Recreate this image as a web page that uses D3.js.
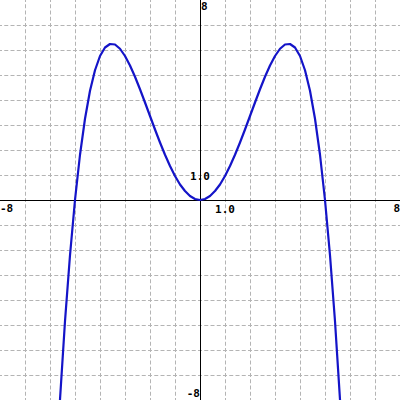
<!DOCTYPE html>
<html>
<head>
<meta charset="utf-8">
<script src="https://cdn.jsdelivr.net/npm/d3@7"></script>
<style>
  html, body { margin: 0; padding: 0; background: #fff; }
  svg { display: block; }
  .lbl { font-family: "DejaVu Sans Mono", monospace; font-weight: bold; font-size: 11px; fill: #000; }
</style>
</head>
<body>
<svg width="400" height="400"></svg>
<script>
// Curve points (x, y)
const xs = [-5.7, -5.6, -5.4, -5.2, -5.0, -4.8, -4.6, -4.4, -4.2, -4.0, -3.8, -3.6, -3.4, -3.2, -3.0,
  -2.8, -2.6, -2.4, -2.2, -2.0, -1.8, -1.6, -1.4, -1.2, -1.0, -0.8, -0.6, -0.4, -0.2, 0,
  0.2, 0.4, 0.6, 0.8, 1.0, 1.2, 1.4, 1.6, 1.8, 2.0, 2.2, 2.4, 2.6, 2.8, 3.0,
  3.2, 3.4, 3.6, 3.8, 4.0, 4.2, 4.4, 4.6, 4.8, 5.0, 5.2, 5.4, 5.6, 5.7]
const ys = [-9.73, -7.98, -4.85, -2.21, 0, 1.81, 3.25, 4.37, 5.19, 5.76, 6.10, 6.24, 6.22, 6.05, 5.76,
  5.38, 4.93, 4.43, 3.90, 3.36, 2.82, 2.30, 1.81, 1.36, 0.96, 0.62, 0.36, 0.16, 0.04, 0,
  0.04, 0.16, 0.36, 0.62, 0.96, 1.36, 1.81, 2.30, 2.82, 3.36, 3.90, 4.43, 4.93, 5.38, 5.76,
  6.05, 6.22, 6.24, 6.10, 5.76, 5.19, 4.37, 3.25, 1.81, 0, -2.21, -4.85, -7.98, -9.73]

const domainMin = -8
const domainMax = 8
const gridValues = d3.range(-7, 8)

const svg = d3.select('svg')
const width = +svg.attr('width')
const height = +svg.attr('height')

const x = d3.scaleLinear().domain([domainMin, domainMax]).range([0, width])
const y = d3.scaleLinear().domain([domainMin, domainMax]).range([height, 0])

// Dashed grid
const grid = svg.append('g')
  .attr('stroke', '#b4b4b4')
  .attr('stroke-width', 1)
  .attr('stroke-dasharray', '4,2.25')
  .attr('stroke-dashoffset', 2)

grid.selectAll('line.v')
  .data(gridValues.filter(d => d !== 0))
  .join('line')
  .attr('class', 'v')
  .attr('x1', d => x(d) + 0.5)
  .attr('x2', d => x(d) + 0.5)
  .attr('y1', 0)
  .attr('y2', height)

grid.selectAll('line.h')
  .data(gridValues.filter(d => d !== 0))
  .join('line')
  .attr('class', 'h')
  .attr('y1', d => y(d) + 0.5)
  .attr('y2', d => y(d) + 0.5)
  .attr('x1', 0)
  .attr('x2', width)

// Axes
svg.append('line')
  .attr('x1', 0).attr('x2', width)
  .attr('y1', y(0) + 0.5).attr('y2', y(0) + 0.5)
  .attr('stroke', '#000')
svg.append('line')
  .attr('y1', 0).attr('y2', height)
  .attr('x1', x(0) + 0.5).attr('x2', x(0) + 0.5)
  .attr('stroke', '#000')

// The curve
const points = xs.map((d, i) => [d, ys[i]])
const line = d3.line()
  .x(d => x(d[0]))
  .y(d => y(d[1]))

svg.append('defs').append('clipPath').attr('id', 'clip')
  .append('rect').attr('width', width).attr('height', height)

svg.append('path')
  .datum(points)
  .attr('clip-path', 'url(#clip)')
  .attr('fill', 'none')
  .attr('stroke', '#1414c8')
  .attr('stroke-width', 2.2)
  .attr('stroke-linejoin', 'round')
  .attr('d', line)

// Labels
const labels = [
  { text: '-8', x: x(domainMin), y: y(0) + 12, anchor: 'start' },
  { text: '8', x: x(domainMax), y: y(0) + 12, anchor: 'end' },
  { text: '8', x: x(0) + 1, y: y(domainMax) + 10, anchor: 'start' },
  { text: '-8', x: x(0), y: y(domainMin) - 3, anchor: 'end' },
  { text: '1.0', x: x(0), y: y(1) + 5, anchor: 'middle' },
  { text: '1.0', x: x(1), y: y(0) + 13, anchor: 'middle' },
]

svg.selectAll('text.lbl')
  .data(labels)
  .join('text')
  .attr('class', 'lbl')
  .attr('x', d => d.x)
  .attr('y', d => d.y)
  .attr('text-anchor', d => d.anchor)
  .text(d => d.text)
</script>
</body>
</html>
